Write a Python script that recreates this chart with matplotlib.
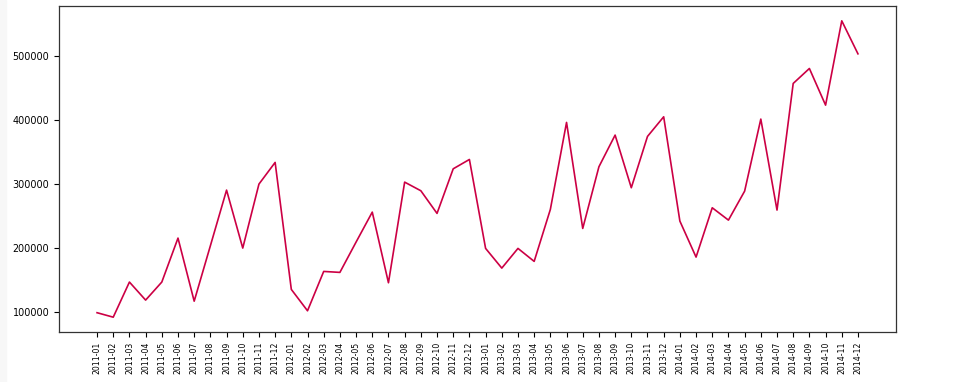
import matplotlib
matplotlib.use("Agg")
import matplotlib.pyplot as plt

# months 2011-01 .. 2014-12
years = ["2011", "2012", "2013", "2014"]
months = [y + "-" + m for y in years for m in
          ["01", "02", "03", "04", "05", "06", "07", "08", "09", "10", "11", "12"]]

# monthly totals
sales = [
    99000, 92000, 146900, 118700, 146900, 215600, 117000, 203600, 290600, 200000, 300000, 333900,
    135400, 102000, 163500, 162000, 209400, 256200, 145800, 303100, 289600, 254200, 323900, 338500,
    199500, 168700, 199500, 179200, 260400, 396400, 230700, 327100, 376600, 294300, 374500, 405200,
    242200, 185900, 263000, 243700, 289000, 401600, 259400, 457300, 480700, 423400, 555200, 503600,
]

fig = plt.figure(figsize=(9.58, 3.82), dpi=100)
fig.patches.append(plt.Rectangle((0, 0), 6 / 958, 1, transform=fig.transFigure,
                                 color="#f7f7f7", zorder=-1))
ax = fig.add_axes([59 / 958, 1 - 332 / 382, (896 - 59) / 958, (332 - 6) / 382])

ax.plot(months, sales, color="#cc0044", linewidth=1.2)

ax.tick_params(axis="y", labelsize=6.9, length=3.5, width=0.8)
ax.tick_params(axis="x", labelsize=5.6, length=3.5, width=0.8, labelrotation=90)
for s in ax.spines.values():
    s.set_color("#333333")
    s.set_linewidth(0.9)

fig.savefig("out.png", dpi=100)
